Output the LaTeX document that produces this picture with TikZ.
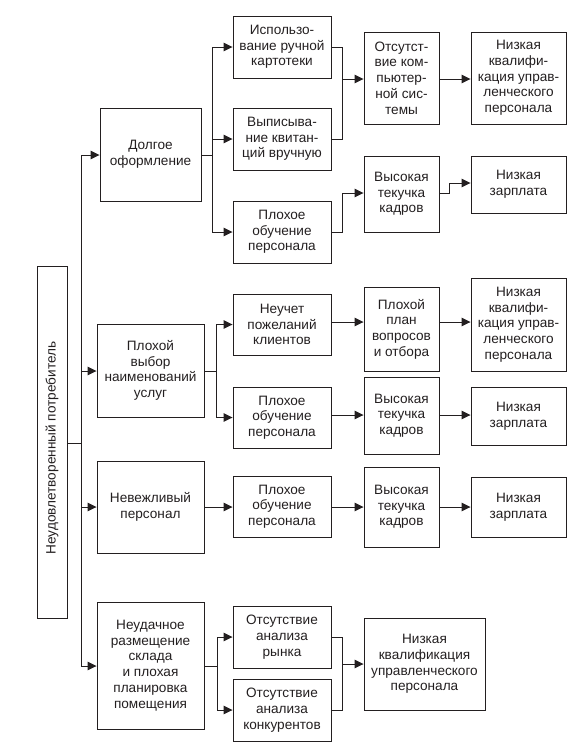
\documentclass[tikz,border=0pt]{standalone}
\usepackage{fontspec}
\setmainfont{Liberation Sans}
\usetikzlibrary{arrows.meta}
\definecolor{ink}{RGB}{35,31,32}
\begin{document}
\begin{tikzpicture}[x=1pt,y=-1pt,
  box/.style={draw=ink, line width=0.9pt, align=center, inner sep=0pt, text=ink,
    font=\fontsize{13.6}{15.7}\selectfont},
  conn/.style={draw=ink, line width=0.9pt},
  arr/.style={conn, -{Triangle[length=9pt,width=8.5pt]}}]
\useasboundingbox (0,0) rectangle (582,748);
% box macro: name, x1,y1,x2,y2, text
\newcommand\bx[6]{\node[box, minimum width={#4-#2}, minimum height={#5-#3}] (#1) at ({(#2+#4)/2},{(#3+#5)/2}) {#6};}
\bx{main}{37}{266}{67}{618}{}
\node[text=ink, rotate=90, font=\fontsize{13.6}{15.7}\selectfont] (maintext) at ([yshift=-6pt]main.center) {Неудовлетворенный потребитель};
\bx{A1}{100}{108}{201}{201}{Долгое\\оформление}
\bx{A2}{97}{324}{204}{417}{Плохой\\выбор\\наименований\\услуг}
\bx{A3}{97}{461}{204}{553}{Невежливый\\персонал}
\bx{A4}{97}{602}{204}{729}{Неудачное\\размещение\\склада\\и плохая\\планировка\\помещения}
\bx{B1}{233}{16}{331}{78}{Использо-\\вание ручной\\картотеки}
\bx{B2}{233}{108}{331}{170}{Выписыва-\\ние квитан-\\ций вручную}
\bx{B3}{233}{201}{331}{263}{Плохое\\обучение\\персонала}
\bx{B4}{233}{294}{331}{355}{Неучет\\пожеланий\\клиентов}
\bx{B5}{233}{387}{331}{448}{Плохое\\обучение\\персонала}
\bx{B6}{233}{476}{331}{537}{Плохое\\обучение\\персонала}
\bx{B7}{233}{606}{331}{668}{Отсутствие\\анализа\\рынка}
\bx{B8}{233}{679}{331}{741}{Отсутствие\\анализа\\конкурентов}
\bx{C1}{364}{32}{439}{124}{Отсутст-\\вие ком-\\пьютер-\\ной сис-\\темы}
\bx{C2}{364}{156}{439}{232}{Высокая\\текучка\\кадров}
\bx{C3}{364}{287}{439}{371}{Плохой\\план\\вопросов\\и отбора}
\bx{C4}{364}{377}{439}{454}{Высокая\\текучка\\кадров}
\bx{C5}{364}{467}{439}{547}{Высокая\\текучка\\кадров}
\bx{C6}{364}{618}{485}{710}{Низкая\\квалификация\\управленческого\\персонала}
\bx{D1}{471}{32}{566}{124}{Низкая\\квалифи-\\кация управ-\\ленческого\\персонала}
\bx{D2}{471}{156}{566}{213}{Низкая\\зарплата}
\bx{D3}{471}{278}{566}{371}{Низкая\\квалифи-\\кация управ-\\ленческого\\персонала}
\bx{D4}{471}{387}{566}{445}{Низкая\\зарплата}
\bx{D5}{471}{477}{566}{537}{Низкая\\зарплата}
% trunk
\coordinate (tTop) at (81,155);
\coordinate (tBot) at (81,666);
\draw[conn] (tTop) -- (tBot);
\draw[conn] (main.east |- 0,443) -- (81,443);
\draw[arr] (tTop) -- (tTop -| A1.west);
\draw[arr] (81,371) -- (A2.west |- 0,371);
\draw[arr] (81,507) -- (A3.west |- 0,507);
\draw[arr] (tBot) -- (tBot -| A4.west);
% A1 branch
\coordinate (j1) at (212,155);
\draw[conn] (A1.east |- j1) -- (j1);
\draw[conn] (j1 |- B1.west) -- (j1 |- B3.west);
\draw[arr] (j1 |- B1.west) -- (B1.west);
\draw[arr] (j1 |- B2.west) -- (B2.west);
\draw[arr] (j1 |- B3.west) -- (B3.west);
% A2 branch
\coordinate (j2) at (216,371);
\draw[conn] (A2.east |- j2) -- (j2);
\draw[conn] (j2 |- B4.west) -- (j2 |- B5.west);
\draw[arr] (j2 |- B4.west) -- (B4.west);
\draw[arr] (j2 |- B5.west) -- (B5.west);
% A3
\draw[arr] (A3.east |- 0,507) -- (B6.west |- 0,507);
% A4 branch
\coordinate (j4) at (217,666);
\draw[conn] (A4.east |- j4) -- (j4);
\draw[conn] (j4 |- B7.west) -- (j4 |- B8.west);
\draw[arr] (j4 |- B7.west) -- (B7.west);
\draw[arr] (j4 |- B8.west) -- (B8.west);
% B1,B2 -> C1
\coordinate (m1) at (342,79);
\draw[conn] (B1.east) -| (m1 |- B2.east) -- (B2.east);
\draw[arr] (m1) -- (m1 -| C1.west);
\draw[arr] (C1.east |- m1) -- (D1.west |- m1);
% B3 -> C2 -> D2
\draw[arr] (B3.east) -- (342,232) -- (342,193) -- (C2.west |- 0,193);
\draw[arr] (C2.east |- 0,193) -- (449,193) -- (449,183) -- (D2.west |- 0,183);
% B4 -> C3 -> D3
\draw[arr] (B4.east |- 0,322) -- (C3.west |- 0,322);
\draw[arr] (C3.east |- 0,322) -- (D3.west |- 0,322);
% B5 -> C4 -> D4
\draw[arr] (B5.east |- 0,415) -- (C4.west |- 0,415);
\draw[arr] (C4.east |- 0,415) -- (D4.west |- 0,415);
% B6 -> C5 -> D5
\draw[arr] (B6.east |- 0,507) -- (C5.west |- 0,507);
\draw[arr] (C5.east |- 0,507) -- (D5.west |- 0,507);
% B7,B8 -> C6
\coordinate (m6) at (342,664);
\draw[conn] (B7.east) -| (m6 |- B8.east) -- (B8.east);
\draw[arr] (m6) -- (m6 -| C6.west);
\end{tikzpicture}
\end{document}
